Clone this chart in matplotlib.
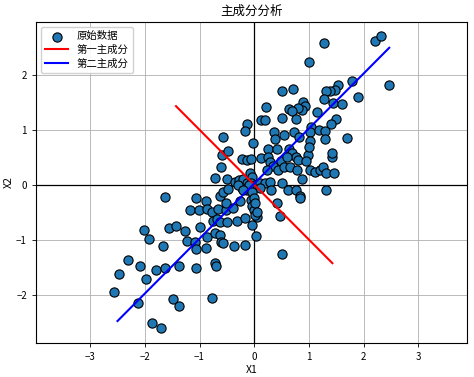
import matplotlib
matplotlib.use("Agg")
import matplotlib.pyplot as plt
import numpy as np

plt.rcParams['font.family'] = ['Noto Sans CJK SC', 'DejaVu Sans']
plt.rcParams['axes.unicode_minus'] = True

x1 = [-1.64, -2.02, -1.93, -1.55, -1.43, -1.66, -2.30, -2.08, -1.80, -1.63,
      -1.37, -2.48, -1.98, -2.57, -2.13, -1.48, -1.37, -1.86, -1.71,
      -1.07, -0.72, -0.69, -0.77,
      -1.07, -0.88, -1.18, -1.01, -0.87, -0.77, -0.66, -0.51, -0.62, -0.57,
      -0.48, -0.71, -0.50, -0.51, -0.75, -0.68, -0.62, -0.49, -1.26, -0.99,
      -0.86, -0.72, -0.62, -0.61, -0.57, -1.23, -1.08, -1.07, -0.88, -0.57,
      -0.59, -0.48, -0.60,
      -0.13, -0.16, 0.12, 0.20, 0.37, 0.55, 0.73, 0.82, -0.02, 0.38,
      0.26, 0.42, 0.63, 0.70, 0.76, 0.81, 0.98, -0.23, -0.13, -0.05,
      0.13, 0.26, 0.29, 0.34, 0.24, 0.49, 0.60, 0.43, 0.55, 0.66,
      0.78, 1.02, 0.94, -0.07, -0.04, -0.36, -0.27, -0.20, -0.13, -0.05,
      0.02, 0.11, 0.20, 0.29, 0.51, -0.22, -0.13, 0.11, 0.31, 0.61,
      0.77, 0.83, 0.84, 0.41, -0.26, -0.05, -0.04, -0.01, 0.05, 0.48,
      -0.39, -0.31, -0.16, -0.04, 0.04, -0.37, -0.16, -0.29, -0.10, -0.20,
      -0.04, -0.01, 0.02, 0.02, 0.05, 0.50,
      1.28, 2.21, 2.32, 1.01, 2.47, 1.79, 1.53, 1.48, 1.39, 1.32,
      1.27, 1.44, 1.60, 1.90, 0.51, 0.71, 0.90, 0.93, 0.87, 0.81,
      0.63, 0.69, 0.21, 0.51, 0.77, 1.15, 1.50, 1.40, 1.04, 1.02,
      1.19, 1.29, 1.30, 1.69, 1.02, 1.01, 1.43, 1.43, 1.12, 1.21,
      1.26, 1.32, 1.46, 0.87, 1.32]
x2 = [-0.21, -0.81, -0.99, -0.79, -0.75, -1.11, -1.36, -1.48, -1.54, -1.51,
      -1.48, -1.62, -1.71, -1.94, -2.15, -2.07, -2.20, -2.50, -2.60,
      -1.50, -1.41, -1.48, -2.06,
      -0.24, -0.30, -0.45, -0.46, -0.44, -0.50, -0.44, -0.46, -0.20, -0.12,
      -0.08, 0.13, 0.11, -0.33, -0.66, -0.62, -0.68, -0.67, -0.83, -0.76,
      -0.94, -0.88, -0.90, -1.03, -1.06, -1.02, -1.03, -1.16, -1.14, 0.87,
      0.55, 0.62, 0.33,
      1.11, 0.98, 1.18, 1.18, 0.97, 0.90, 0.97, 0.87, 0.76, 0.84,
      0.66, 0.65, 0.65, 0.58, 0.51, 0.46, 0.55, 0.48, 0.45, 0.48,
      0.49, 0.51, 0.42, 0.35, 0.27, 0.43, 0.51, 0.27, 0.32, 0.33,
      0.27, 0.27, 0.44, 0.21, 0.15, 0.05, 0.09, 0.10, 0.04, 0.03,
      0.00, 0.04, 0.04, 0.06, 0.04, -0.06, -0.09, -0.06, -0.10, -0.10,
      -0.10, -0.20, -0.24, -0.32, -0.30, -0.27, -0.38, -0.45, -0.58, -0.56,
      -0.41, -0.65, -0.60, -0.73, -0.93, -1.11, -1.09, 0.00, 0.00, -0.09,
      -0.12, -0.24, -0.33, -0.55, -0.49, -1.25,
      2.58, 2.62, 2.71, 2.24, 1.81, 1.89, 1.82, 1.73, 1.70, 1.70,
      1.56, 1.49, 1.47, 1.59, 1.71, 1.75, 1.51, 1.44, 1.36, 1.39,
      1.38, 1.35, 1.41, 1.22, 1.20, 1.32, 1.19, 1.10, 1.06, 0.97,
      1.00, 0.98, 0.84, 0.85, 0.80, 0.69, 0.51, 0.58, 0.24, 0.27,
      0.32, 0.22, 0.21, 0.11, -0.09]

pc1_x = [-1.43, 1.43]
pc1_y = [1.43, -1.42]
pc2_x = [-2.50, 2.47]
pc2_y = [-2.47, 2.49]

fig = plt.figure(figsize=(4.74, 3.77), dpi=100)
ax = fig.add_axes([0.076, 0.090, 0.909, 0.852])

ax.axhline(0, color='black', lw=0.9, zorder=1)
ax.axvline(0, color='black', lw=0.9, zorder=1)
ax.scatter(x1, x2, s=44, c='#1f77b4', edgecolors='black', linewidths=0.8,
           zorder=3, label='原始数据')
ax.plot(pc1_x, pc1_y, color='red', lw=1.5, zorder=4, label='第一主成分')
ax.plot(pc2_x, pc2_y, color='blue', lw=1.5, zorder=4, label='第二主成分')

ax.set_xlim(-3.99, 3.89)
ax.set_ylim(-2.87, 2.96)
ax.set_xticks([-3, -2, -1, 0, 1, 2, 3])
ax.set_yticks([-2, -1, 0, 1, 2])
ax.grid(True, color='#b0b0b0', lw=0.6, zorder=0)
ax.set_axisbelow(True)
ax.tick_params(labelsize=7, length=3, width=0.6)
for s in ax.spines.values():
    s.set_linewidth(0.8)

ax.set_title('主成分分析', fontsize=9, pad=5)
ax.set_xlabel('X1', fontsize=7.5, labelpad=2)
ax.set_ylabel('X2', fontsize=7.5, labelpad=2)
ax.legend(loc='upper left', fontsize=7.5, framealpha=0.9, borderpad=0.4,
          labelspacing=0.35, handlelength=2.2)

fig.savefig('out.png', dpi=100)
